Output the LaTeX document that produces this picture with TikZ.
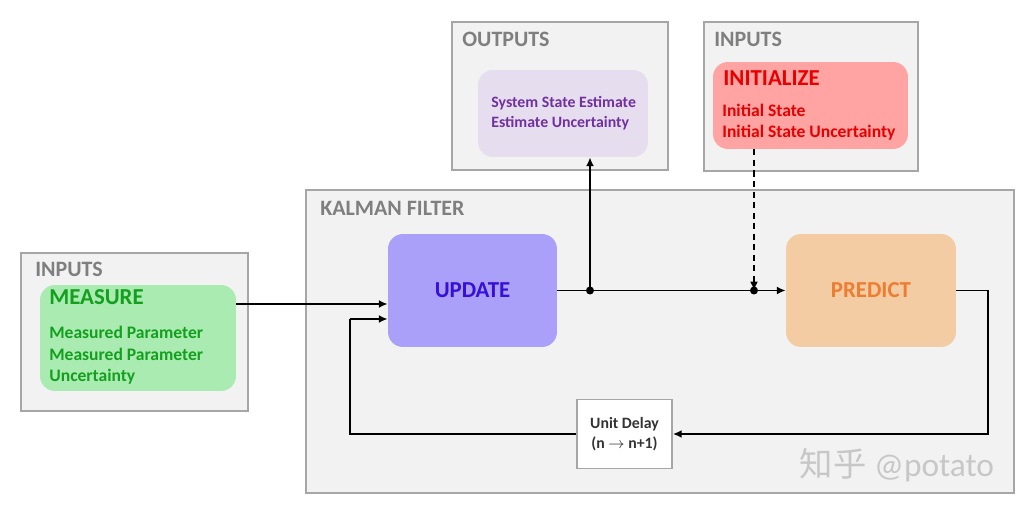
\documentclass[tikz,border=0pt]{standalone}
\usepackage{fontspec}
\setmainfont{Carlito}
\newfontfamily\cjkfont{Noto Sans CJK SC}
\usetikzlibrary{arrows.meta}

\definecolor{boxGray}{RGB}{242,242,242}
\definecolor{boxLine}{RGB}{166,166,166}
\definecolor{labelGray}{RGB}{127,127,127}
\definecolor{measureFill}{RGB}{169,235,176}
\definecolor{measureText}{RGB}{20,160,30}
\definecolor{estimateFill}{RGB}{230,222,238}
\definecolor{estimateText}{RGB}{112,48,160}
\definecolor{initFill}{RGB}{255,163,163}
\definecolor{initText}{RGB}{230,0,0}
\definecolor{updateFill}{RGB}{170,160,250}
\definecolor{updateText}{RGB}{55,15,215}
\definecolor{predictFill}{RGB}{244,204,164}
\definecolor{predictText}{RGB}{237,125,49}

\tikzset{
	groupbox/.style={rectangle, draw=boxLine, fill=boxGray, line width=1pt},
	roundbox/.style={rectangle, rounded corners=0.3cm, text centered},
	grouplabel/.style={anchor=base west, text=labelGray, font=\bfseries\fontsize{12.5}{14}\selectfont, inner sep=0pt},
	arrow/.style={-{Latex[length=5pt,width=4.5pt]}, line width=1.1pt},
	link/.style={line width=1.1pt}
}

\begin{document}
\begin{tikzpicture}[x=0.02cm, y=-0.02cm]
		
		\useasboundingbox (0,0) rectangle (1022,513);
		
		%Group boxes
		\node (inputBox) at (134.5,332) [groupbox, minimum width=4.54cm, minimum height=3.16cm]{};
		\node (outputBox) at (560,96) [groupbox, minimum width=4.32cm, minimum height=2.96cm]{};
		\node (initBox) at (811,96.5) [groupbox, minimum width=4.28cm, minimum height=2.98cm]{};
		\node (kalmanBox) at (660,341.5) [groupbox, minimum width=14.16cm, minimum height=6.06cm]{};
		
		%Group labels
		\node (inputLabel) at (35,277) [grouplabel]{INPUTS};
		\node (outputLabel) at (462,47) [grouplabel]{OUTPUTS};
		\node (initLabel) at (714,47) [grouplabel]{INPUTS};
		\node (kalmanLabel) at (320,216) [grouplabel]{KALMAN FILTER};
		
		%Measure (multi-line texts sit on their last line)
		\node (measureNode) at (138,338) [roundbox, fill=measureFill, minimum width=3.92cm, minimum height=2.12cm]{};
		\node (measureTitle) at (49,305) [anchor=base west, inner sep=0pt, text=measureText, font=\bfseries\fontsize{13}{15}\selectfont]{MEASURE};
		\node (measureText) at (49,382) [anchor=base west, inner sep=0pt, align=left, text=measureText, font=\bfseries\fontsize{10}{12.3}\selectfont]{Measured Parameter\\Measured Parameter\\Uncertainty};
		
		%Estimate
		\node (estimateNode) at (563,113.5) [roundbox, fill=estimateFill, minimum width=3.4cm, minimum height=1.74cm]{};
		\node (estimateText) at (491,128) [anchor=base west, inner sep=0pt, align=left, text=estimateText, font=\bfseries\fontsize{9}{11.4}\selectfont]{System State Estimate\\Estimate Uncertainty};
		
		%Initialize
		\node (initNode) at (810.5,105.5) [roundbox, fill=initFill, minimum width=3.9cm, minimum height=1.74cm]{};
		\node (initTitle) at (723,86) [anchor=base west, inner sep=0pt, text=initText, font=\bfseries\fontsize{13}{15}\selectfont]{INITIALIZE};
		\node (initText) at (722,138) [anchor=base west, inner sep=0pt, align=left, text=initText, font=\bfseries\fontsize{10}{12.5}\selectfont]{Initial State\\Initial State Uncertainty};
		
		%Filter steps
		\node (updateNode) at (472.5,290.5) [roundbox, fill=updateFill, minimum width=3.38cm, minimum height=2.26cm, text=updateText, font=\bfseries\fontsize{13}{15}\selectfont]{UPDATE};
		\node (predictNode) at (871,290.5) [roundbox, fill=predictFill, minimum width=3.4cm, minimum height=2.26cm, text=predictText, font=\bfseries\fontsize{13}{15}\selectfont]{PREDICT};
		\node (delayNode) at (624.5,434) [rectangle, draw=boxLine, fill=white, line width=1pt, minimum width=1.9cm, minimum height=1.38cm, align=center, font=\bfseries\fontsize{9}{11.4}\selectfont, text=black!80]{Unit Delay\\(n $\rightarrow$ n+1)};
		
		%Watermark
		\node (watermark) at (897,465) [text=black!22, font=\fontsize{19}{22}\selectfont]{{\cjkfont 知乎} @potato};
		
		%Connector points
		\coordinate (measureOut) at (236,304);
		\coordinate (splitOut) at (590,290.5);
		\coordinate (joinInit) at (754,290.5);
		\coordinate (loopRight) at (988,434);
		\coordinate (loopLeft) at (350,319);
		
		%Connectors
		\draw[arrow] (measureOut) -- (measureOut -| updateNode.west);
		\draw[arrow] (updateNode) -- (predictNode);
		\draw[arrow] (splitOut) -- (splitOut |- estimateNode.south);
		\draw[arrow, dash pattern=on 3.5pt off 2.5pt] (initNode.south -| joinInit) -- (joinInit);
		\draw[arrow] (predictNode.east) -| (loopRight) -- (delayNode.east);
		\draw[link] (delayNode.west) -| (loopLeft);
		\draw[arrow] (loopLeft) -- (loopLeft -| updateNode.west);
		\fill (splitOut) circle (0.08cm);
		\fill (joinInit) circle (0.08cm);
		
\end{tikzpicture}
\end{document}
